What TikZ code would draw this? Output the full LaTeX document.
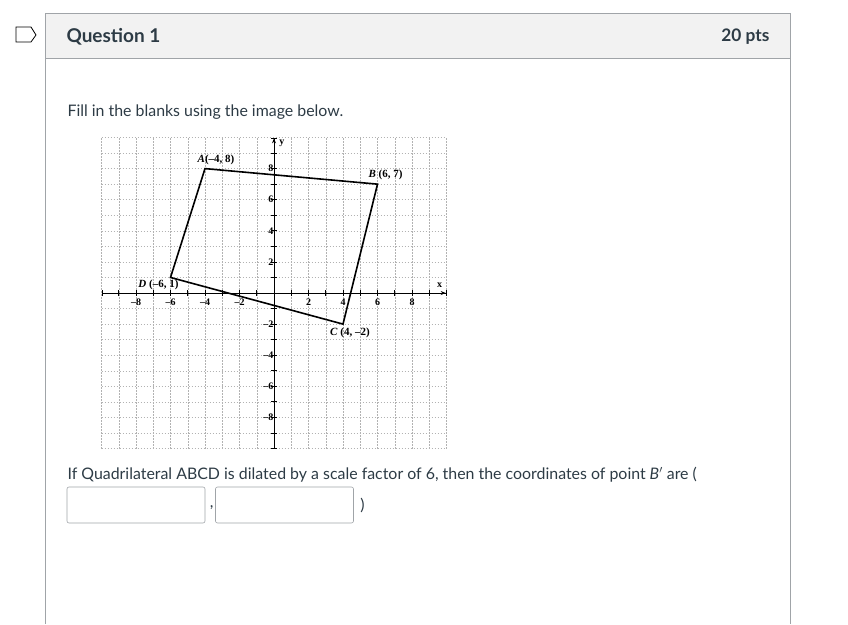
\documentclass[tikz,border=0pt]{standalone}
\usepackage{fontspec}
\setmainfont{Lato}
\newfontfamily\graphfont{Liberation Serif}
\usepackage{xcolor}
\usetikzlibrary{arrows.meta, positioning}

\definecolor{canvastext}{HTML}{2D3B45}
\definecolor{framegray}{HTML}{A0A4A8}
\definecolor{headfill}{HTML}{F2F2F2}

\begin{document}
\begin{tikzpicture}[x=1pt, y=-1pt,
    gridline/.style = {gray!60, line width=0.45pt, dash pattern=on 1.5pt off 1.5pt},
    axisline/.style = {line width=0.8pt},
    ticklabel/.style = {font=\graphfont\bfseries\fontsize{10}{10}\selectfont, inner sep=0.5pt},
    pointlabel/.style = {font=\graphfont\bfseries\fontsize{11}{11}\selectfont, inner sep=0pt},
    answerbox/.style = {draw=framegray, rounded corners=2pt, line width=0.6pt,
                        minimum width=138pt, minimum height=36pt}]
    \useasboundingbox (0,0) rectangle (848,624);

    % question frame
    \draw[framegray, fill=headfill] (45,13) rectangle (790,58);
    \draw[framegray] (45,58) -- (45,624) (790,58) -- (790,624);
    \draw[line width=0.8pt] (16,27) -- (31,27) -- (36,35) -- (31,42) -- (16,42) -- cycle;

    \begin{scope}[every node/.style = {text=canvastext}]
        \node[anchor=west, font=\bfseries\fontsize{19}{21}\selectfont] (title) at (63,36.5) {Question 1};
        \node[anchor=east, font=\bfseries\fontsize{17.3}{20}\selectfont] (points) at (773,36.5) {20 pts};
        \node[anchor=west, font=\fontsize{15.9}{18}\selectfont] (intro) at (64,112.5) {Fill in the blanks using the image below.};
        \node[anchor=west, font=\fontsize{15.9}{18}\selectfont] (prompt) at (64,474.5)
            {If Quadrilateral ABCD is dilated by a scale factor of 6, then the coordinates of point \textit{B\/}$'$ are (};
    \end{scope}

    % coordinate plane
    \begin{scope}[shift={(274,293)}, x=17.25pt, y=15.55pt]
        \foreach \i in {-10,...,10} {
            \draw[gridline] (\i,-10) -- (\i,10);
            \draw[gridline] (-10,\i) -- (10,\i);
        }
        \draw[axisline, {Bar[width=6pt]}-{Stealth[length=5pt,width=4pt] Bar[width=6pt]}] (-10,0) -- (10,0);
        \draw[axisline, {Bar[width=6pt]}-{Stealth[length=5pt,width=4pt] Bar[width=6pt]}] (0,-10) -- (0,10);
        \foreach \i in {-9,...,-1,1,2,...,9} {
            \draw[axisline] (\i,0) ++(0,-3pt) -- ++(0,6pt);
            \draw[axisline] (0,\i) ++(-3pt,0) -- ++(6pt,0);
        }
        \foreach \i/\t in {-8/–8, -6/–6, -4/–4, -2/–2, 2/2, 4/4, 6/6, 8/8} {
            \node[ticklabel, below=5pt] (xlab\i) at (\i,0) {\t};
            \node[ticklabel, left=0pt] (ylab\i) at (0,\i) {\t};
        }
        \node[ticklabel] (xname) at (9.6,0.5) {x};
        \node[ticklabel] (yname) at (0.45,9.6) {y};

        \coordinate (A) at (-4,8);
        \coordinate (B) at (6,7);
        \coordinate (C) at (4,-2);
        \coordinate (D) at (-6,1);
        \draw[line width=1.6pt, line join=miter] (A) -- (B) -- (C) -- (D) -- cycle;

        \node[pointlabel, above=4pt of A, xshift=11pt] (Alab) {\textit{A}(–4, 8)};
        \node[pointlabel, above=4pt of B, xshift=8pt] (Blab) {\textit{B} (6, 7)};
        \node[pointlabel, below=4pt of C, xshift=7pt] (Clab) {\textit{C} (4, –2)};
        \node[pointlabel, below=2pt of D, xshift=-12pt] (Dlab) {\textit{D} (–6, 1)};
    \end{scope}

    % answer blanks
    \node[answerbox] (ansx) at (136,505) {};
    \node[answerbox] (ansy) at (284.5,505) {};
    \node[text=canvastext, font=\fontsize{15.9}{18}\selectfont, right=1pt of ansx, yshift=-3pt] (comma) {,};
    \node[text=canvastext, font=\fontsize{15.9}{18}\selectfont, right=3pt of ansy] (paren) {)};
\end{tikzpicture}
\end{document}
